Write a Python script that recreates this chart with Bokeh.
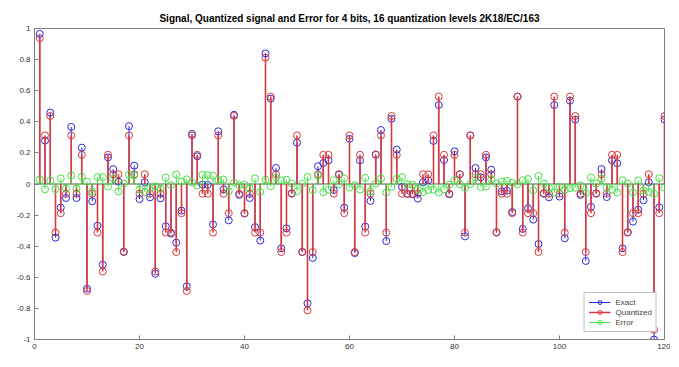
from bokeh.plotting import figure
from bokeh.models import ColumnDataSource, Span, Legend, LegendItem, FixedTicker, PrintfTickFormatter, Range1d
from bokeh.embed import file_html
from bokeh.resources import INLINE

n = list(range(1, 121))

exact = [0.965, 0.279, 0.459, -0.345, -0.152, -0.090, 0.367, -0.090, 0.234, -0.673,
         -0.111, -0.268, -0.519, 0.171, 0.096, 0.015, -0.435, 0.372, 0.118, -0.097,
         0.011, -0.086, -0.577, -0.092, -0.272, -0.319, -0.377, -0.171, -0.658, 0.322,
         0.178, -0.004, -0.006, -0.260, 0.339, -0.034, -0.234, 0.445, -0.070, -0.190,
         -0.090, -0.277, -0.364, 0.840, 0.549, 0.103, -0.414, -0.285, -0.060, 0.266,
         -0.437, -0.767, -0.476, 0.114, 0.135, 0.152, -0.039, 0.062, -0.152, 0.290,
         -0.444, 0.152, -0.274, -0.109, 0.190, 0.347, -0.367, 0.420, 0.221, -0.019,
         -0.064, -0.066, -0.094, 0.011, 0.024, 0.277, 0.508, 0.154, -0.066, 0.210,
         0.062, -0.337, 0.312, 0.103, 0.043, 0.171, 0.092, -0.310, -0.047, -0.043,
         -0.180, 0.562, -0.289, -0.156, -0.229, -0.386, -0.060, -0.086, 0.508, -0.081,
         -0.349, 0.536, 0.414, -0.070, -0.495, -0.146, -0.060, 0.096, -0.084, 0.152,
         0.133, -0.414, -0.310, -0.242, -0.165, -0.105, 0.011, -1.000, -0.150, 0.414]

quantized = [0.9375, 0.3125, 0.4375, -0.3125, -0.1875, -0.0625, 0.3125, -0.0625, 0.1875, -0.6875,
             -0.0625, -0.3125, -0.5625, 0.1875, 0.0625, 0.0625, -0.4375, 0.3125, 0.0625, -0.0625,
             0.0625, -0.0625, -0.5625, -0.0625, -0.3125, -0.3125, -0.4375, -0.1875, -0.6875, 0.3125,
             0.1875, -0.0625, -0.0625, -0.3125, 0.3125, -0.0625, -0.1875, 0.4375, -0.0625, -0.1875,
             -0.0625, -0.3125, -0.3125, 0.8125, 0.5625, 0.0625, -0.4375, -0.3125, -0.0625, 0.3125,
             -0.4375, -0.8125, -0.4375, 0.0625, 0.1875, 0.1875, -0.0625, 0.0625, -0.1875, 0.3125,
             -0.4375, 0.1875, -0.3125, -0.0625, 0.1875, 0.3125, -0.3125, 0.4375, 0.1875, -0.0625,
             -0.0625, -0.0625, -0.0625, 0.0625, 0.0625, 0.3125, 0.5625, 0.1875, -0.0625, 0.1875,
             0.0625, -0.3125, 0.3125, 0.0625, 0.0625, 0.1875, 0.0625, -0.3125, -0.0625, -0.0625,
             -0.1875, 0.5625, -0.3125, -0.1875, -0.1875, -0.4375, -0.0625, -0.0625, 0.5625, -0.0625,
             -0.3125, 0.5625, 0.4375, -0.0625, -0.4375, -0.1875, -0.0625, 0.0625, -0.0625, 0.1875,
             0.1875, -0.4375, -0.3125, -0.1875, -0.1875, -0.0625, 0.0625, -0.9375, -0.1875, 0.4375]

error = [0.028, -0.034, 0.022, -0.033, 0.036, -0.028, 0.055, -0.028, 0.047, 0.015,
         -0.049, 0.045, 0.044, -0.017, 0.034, -0.048, 0.003, 0.060, 0.056, -0.035,
         -0.052, -0.024, -0.015, -0.030, 0.041, -0.007, 0.061, 0.017, 0.030, 0.010,
         -0.010, 0.059, 0.057, 0.053, 0.027, 0.029, -0.047, 0.008, -0.008, -0.003,
         -0.028, 0.036, -0.052, 0.028, -0.014, 0.041, 0.024, 0.028, 0.003, -0.047,
         0.001, 0.046, -0.039, 0.052, -0.053, -0.036, 0.024, -0.001, 0.036, -0.023,
         -0.007, -0.036, 0.039, -0.047, 0.003, 0.035, -0.055, -0.018, 0.034, 0.044,
         -0.002, -0.004, -0.032, -0.052, -0.039, -0.036, -0.055, -0.034, -0.004, 0.023,
         -0.001, -0.025, -0.001, 0.041, -0.020, -0.017, 0.030, 0.003, 0.016, 0.020,
         0.008, -0.001, 0.024, 0.032, -0.042, 0.052, 0.003, -0.024, -0.055, -0.019,
         -0.037, -0.027, -0.024, -0.008, -0.058, 0.042, 0.003, 0.034, -0.022, -0.036,
         -0.055, 0.024, 0.003, -0.055, 0.023, -0.043, -0.052, -0.0625, 0.038, -0.024]

x_ticks = [0, 20, 40, 60, 80, 100, 120]
y_ticks = [-1, -0.8, -0.6, -0.4, -0.2, 0, 0.2, 0.4, 0.6, 0.8, 1]

series = [("Exact", exact, "#2b2bdc", 1.0),
          ("Quantized", quantized, "#d83a3a", 1.6),
          ("Error", error, "#44e044", 1.0)]

p = figure(width=670, height=358, output_backend="svg", toolbar_location=None,
           x_range=Range1d(0, 120), y_range=Range1d(-1, 1),
           min_border_left=34, min_border_right=6, min_border_top=28, min_border_bottom=19)
p.title.text = "Signal, Quantized signal and Error for 4 bits, 16 quantization levels 2K18/EC/163"
p.title.align = "center"
p.title.text_font = "Liberation Sans"
p.title.text_font_size = "10px"
p.title.text_font_style = "bold"
p.title.text_color = "#000000"
p.xgrid.visible = False
p.ygrid.visible = False
p.outline_line_color = "#808080"

for ax, ticks in ((p.xaxis[0], x_ticks), (p.yaxis[0], y_ticks)):
    ax.ticker = FixedTicker(ticks=ticks)
    ax.major_tick_in = 4
    ax.major_tick_out = 0
    ax.minor_tick_line_color = None
    ax.axis_line_color = "#808080"
    ax.major_tick_line_color = "#808080"
    ax.major_label_text_font = "Liberation Sans"
    ax.major_label_text_font_size = "8px"
    ax.major_label_text_color = "#333333"
    ax.major_label_standoff = 4
p.yaxis[0].formatter = PrintfTickFormatter(format="%g")

base = Span(location=0, dimension="width", line_color="#3b6b3b", line_width=1, level="underlay")
p.add_layout(base)

items = []
for label, vals, color, sw in series:
    src = ColumnDataSource(dict(x=n, y=vals, z=[0] * len(n)))
    seg = p.segment(x0="x", y0="z", x1="x", y1="y", source=src, line_color=color, line_width=sw)
    mk = p.scatter(x="x", y="y", source=src, marker="circle", size=7, fill_color=None,
                   line_color=color, line_width=1)
    items.append(LegendItem(label=label, renderers=[seg, mk]))

legend = Legend(items=items, location="bottom_right", margin=7, padding=4, spacing=0,
                label_text_font="Liberation Sans", label_text_font_size="8px",
                label_height=10, glyph_height=10, glyph_width=22,
                border_line_color="#808080", background_fill_alpha=1.0)
p.add_layout(legend)

open("out.html", "w").write(file_html(p, INLINE))
